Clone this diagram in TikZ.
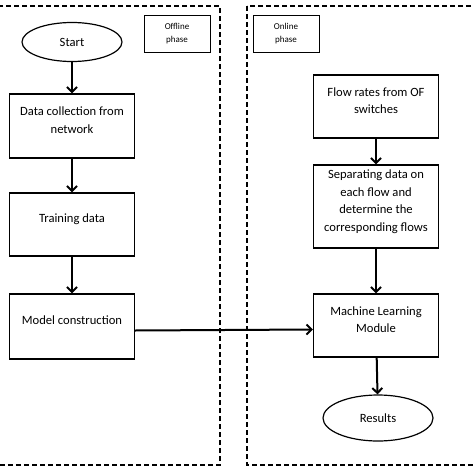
\documentclass[tikz,border=0pt]{standalone}
\usepackage{fontspec}
\setmainfont{Carlito}
\usetikzlibrary{shapes.geometric,arrows.meta}
\newcommand{\lowpad}{\rule[-12pt]{0pt}{12pt}}

\begin{document}
\begin{tikzpicture}[x=1pt,y=-1pt,
   stepbox/.style={draw,line width=1.2pt,minimum width=125pt,align=center,font=\fontsize{12.6}{17.5}\selectfont},
   endbox/.style={draw,ellipse,line width=1.2pt,inner sep=0pt,font=\fontsize{12.6}{17.5}\selectfont},
   phasebox/.style={draw,line width=0.8pt,minimum width=66pt,minimum height=37pt,align=center,font=\fontsize{9}{13}\selectfont},
   panel/.style={dash pattern=on 5pt off 3pt,line width=1.2pt},
   flow/.style={-{Straight Barb[length=5pt,width=10pt]},line width=2pt}]
   \useasboundingbox (0,0) rectangle (474,474);
   % offline part
   \begin{scope}
    \draw[panel] (-5,6) rectangle (220,465);
    \node[phasebox] (offline) at (177,33.5) {Offline\\phase};
    \node[endbox,minimum width=100pt,minimum height=39pt] (start) at (72,42) {Start};
    \node[stepbox,minimum height=64pt] (collect) at (72,126) {Data collection from\\network\lowpad};
    \node[stepbox,minimum height=63pt] (train) at (72,224.5) {Training data\lowpad};
    \node[stepbox,minimum height=65pt] (model) at (72,326.5) {Model construction\lowpad};
    \draw[flow] (start) -- (collect);
    \draw[flow] (collect) -- (train);
    \draw[flow] (train) -- (model);
   \end{scope}
   % online part
   \begin{scope}
    \draw[panel] (247,6) rectangle (480,465);
    \node[phasebox] (online) at (286,33.5) {Online\\phase};
    \node[stepbox,minimum height=63pt] (rates) at (376,106.5) {Flow rates from OF\\switches\lowpad};
    \node[stepbox,minimum height=83pt] (separate) at (376,206.5) {Separating data on\\each flow and\\determine the\\corresponding flows\lowpad};
    \node[stepbox,minimum height=63pt] (mlm) at (376,325.5) {Machine Learning\\Module\lowpad};
    \node[endbox,minimum width=110pt,minimum height=46pt] (results) at (378,418) {Results};
    \draw[flow] (rates) -- (separate);
    \draw[flow] (separate) -- (mlm);
    \draw[flow] (mlm) -- (results);
   \end{scope}
   \draw[flow] ([yshift=-4pt]model.east) -- ([yshift=-4pt]mlm.west);
\end{tikzpicture}
\end{document}
